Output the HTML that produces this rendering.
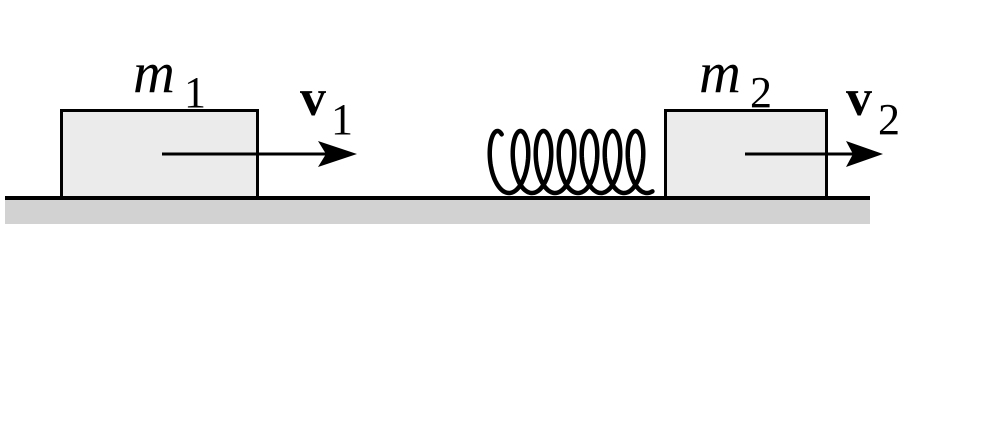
<!DOCTYPE html>
<html><head><style>
html,body{margin:0;padding:0;background:#fff;}
svg{display:block}
</style></head><body>
<svg width="999" height="422" viewBox="0 0 999 422" xmlns="http://www.w3.org/2000/svg">
<rect x="5" y="200" width="865" height="24" fill="#d2d2d2"/>
<line x1="5" y1="198" x2="870" y2="198" stroke="#000" stroke-width="4"/>
<rect x="61.5" y="110.5" width="196" height="87" fill="#ebebeb" stroke="#000" stroke-width="3"/>
<rect x="665.5" y="110.5" width="161" height="87" fill="#ebebeb" stroke="#000" stroke-width="3"/>
<line x1="162" y1="154" x2="330" y2="154" stroke="#000" stroke-width="3"/>
<polygon points="357,154 318,141 326,154 318,167" fill="#000"/>
<line x1="745" y1="154" x2="858" y2="154" stroke="#000" stroke-width="3"/>
<polygon points="883,154 846,141 853,154 846,167" fill="#000"/>
<path id="spring" fill="none" stroke="#000" stroke-width="4.5" stroke-linecap="round"/>
<text x="133" y="92" font-family="Liberation Serif, serif" font-style="italic" font-size="58">m</text>
<text x="184" y="107" font-family="Liberation Serif, serif" font-size="44">1</text>
<text x="300" y="115" font-family="Liberation Serif, serif" font-weight="bold" font-size="52">v</text>
<text x="331" y="134" font-family="Liberation Serif, serif" font-size="44">1</text>
<text x="699" y="92" font-family="Liberation Serif, serif" font-style="italic" font-size="58">m</text>
<text x="750" y="107" font-family="Liberation Serif, serif" font-size="44">2</text>
<text x="846" y="115" font-family="Liberation Serif, serif" font-weight="bold" font-size="52">v</text>
<text x="878" y="134" font-family="Liberation Serif, serif" font-size="44">2</text>
</svg>
<script>
var d="",x0=486,p=23,b=13,yc=162,h=31;
for(var t=Math.PI*0.85;t<=14*Math.PI+0.35;t+=0.06){
var x=x0+p*t/(2*Math.PI)+b*Math.sin(t),y=yc+h*Math.cos(t);
d+=(d?"L":"M")+x.toFixed(2)+" "+y.toFixed(2);}
document.getElementById("spring").setAttribute("d",d);
</script>
</body></html>
